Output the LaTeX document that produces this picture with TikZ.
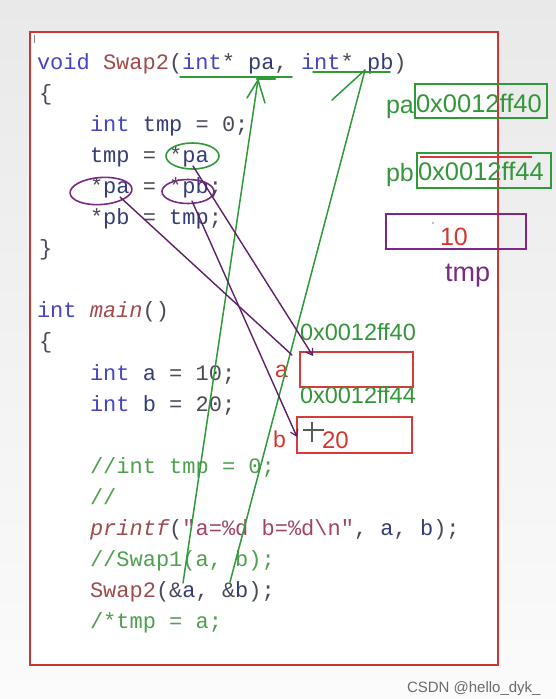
\documentclass[tikz,border=0pt]{standalone}
\usepackage{fontspec}
\setmainfont{Liberation Sans}
\setmonofont{Liberation Mono}
\usetikzlibrary{arrows.meta,shapes.geometric}
\definecolor{bgtop}{HTML}{E9E9E9}
\definecolor{bgbot}{HTML}{FBFBFB}
\definecolor{framered}{HTML}{CC3535}
\definecolor{boxred}{HTML}{D63A3A}
\definecolor{txtred}{HTML}{D3372F}
\definecolor{anngreen}{HTML}{2E9A38}
\definecolor{lblgreen}{HTML}{34963A}
\definecolor{annpurple}{HTML}{7A2A84}
\definecolor{linepurple}{HTML}{5E2068}
\definecolor{ckwcol}{HTML}{4545C4}
\definecolor{cidcol}{HTML}{363C76}
\definecolor{cdefcol}{HTML}{4A4A58}
\definecolor{cfncol}{HTML}{A04C4C}
\definecolor{ccmcol}{HTML}{4FA04F}
\definecolor{cstcol}{HTML}{A04466}
\newcommand{\ckw}[1]{\textcolor{ckwcol}{#1}}
\newcommand{\cid}[1]{\textcolor{cidcol}{#1}}
\newcommand{\cfn}[1]{\textcolor{cfncol}{#1}}
\newcommand{\ccm}[1]{\textcolor{ccmcol}{#1}}
\newcommand{\cst}[1]{\textcolor{cstcol}{#1}}
\begin{document}
\begin{tikzpicture}[x=1pt,y=-1pt,
  every node/.style={inner sep=0pt,outer sep=0pt},
  code/.style={anchor=base west,font=\ttfamily\fontsize{22}{22}\selectfont,text=cdefcol},
  lbl/.style={anchor=base west,font=\fontsize{#1}{#1}\selectfont},
  lbl/.default=25,
  gline/.style={draw=anngreen,line width=1.5pt,line cap=round},
  pline/.style={draw=linepurple,line width=1.4pt,line cap=round},
  parrow/.style={pline,-{Straight Barb[length=6pt,width=8pt,line width=1.2pt]}},
  ell/.style={ellipse,draw,line width=1.6pt,fill=none},
  gbox/.style={draw=anngreen,line width=1.6pt},
  rbox/.style={draw=boxred,line width=2pt},
  pbox/.style={draw=annpurple,line width=1.8pt}]
\useasboundingbox (0,0) rectangle (556,699);
\shade[top color=bgtop,bottom color=bgbot] (0,0) rectangle (556,699);
\fill[white] (30,32) rectangle (498,665);
\draw[draw=framered,line width=2.6pt] (30,32) rectangle (498,665);
\draw[gray,line width=0.8pt] (34,35) -- (34,43);

% ---- code ----
\node[code] (c1) at (37,69) {\ckw{void} \cfn{Swap2}(\ckw{int}* \cid{pa}, \ckw{int}* \cid{pb})};
\node[code] (c2) at (39,100) {\{};
\node[code] (c3) at (90,131) {\ckw{int} \cid{tmp} = 0;};
\node[code] (c4) at (90,162) {\cid{tmp} = *\cid{pa}};
\node[code] (c5) at (90,193) {*\cid{pa} = *\cid{pb};};
\node[code] (c6) at (90,224) {*\cid{pb} = \cid{tmp};};
\node[code] (c7) at (39,255) {\}};
\node[code] (c8) at (37,317) {\ckw{int} \cfn{\itshape main}()};
\node[code] (c9) at (39,348) {\{};
\node[code] (c10) at (90,380) {\ckw{int} \cid{a} = 10;};
\node[code] (c11) at (90,411) {\ckw{int} \cid{b} = 20;};
\node[code] (c12) at (90,473) {\ccm{//int tmp = 0;}};
\node[code] (c13) at (90,504) {\ccm{//}};
\node[code] (c14) at (90,535) {\cfn{\itshape printf}(\cst{"a=\%d b=\%d\textbackslash n"}, \cid{a}, \cid{b});};
\node[code] (c15) at (90,566) {\ccm{//Swap1(a, b);}};
\node[code] (c16) at (90,597) {\cfn{Swap2}(\&\cid{a}, \&\cid{b});};
\node[code] (c17) at (90,628) {\ccm{/*tmp = a;}};

% ---- right side memory ----
\node[lbl,text=lblgreen] (palbl) at (386,113) {pa};
\node[gbox,minimum width=132,minimum height=34] (pabox) at (481,101) {};
\node[lbl=25.5,text=lblgreen] (paval) at (416,112) {0x0012ff40};
\node[lbl,text=lblgreen] (pblbl) at (386,181) {pb};
\node[gbox,minimum width=134,minimum height=35] (pbbox) at (484,170.5) {};
\draw[boxred,line width=1.6pt] (420,157) -- (532,157);
\node[lbl=25.5,text=lblgreen] (pbval) at (418,180) {0x0012ff44};
\node[pbox,minimum width=140,minimum height=35] (tmpbox) at (456,231.5) {};
\node[lbl,text=txtred] (tmpval) at (440,245) {10};
\fill[gray] (433,223) circle (0.9);
\node[lbl=27,text=annpurple] (tmplbl) at (445,281) {tmp};

% ---- main memory ----
\node[lbl=23.5,text=lblgreen] (aaddr) at (300,340) {0x0012ff40};
\node[rbox,minimum width=113,minimum height=35] (abox) at (356.5,369.5) {};
\node[lbl=23,text=txtred] (alab) at (275,377) {a};
\node[lbl=23.5,text=lblgreen] (baddr) at (300,403) {0x0012ff44};
\node[rbox,minimum width=115,minimum height=36] (bbox) at (354.5,435) {};
\node[lbl=23,text=txtred] (blab) at (273,447) {b};
\node[lbl=24,text=txtred] (bval) at (322,448) {20};
\draw[gray!70!black,line width=1.2pt] (312,422) -- (312,442) (303,430) -- (324,430);

% ---- green annotations ----
\draw[gline] (180,77) -- (292,77);
\draw[gline,line width=2.5pt] (257,79) -- (275,79);
\draw[gline] (313,72) -- (390,72);
\node[ell,draw=anngreen,minimum width=53,minimum height=26] (e0) at (192.5,156) {};
\coordinate (ampa) at (183,583);
\coordinate (ampb) at (230,582);
\coordinate (tipa) at (258,80);
\coordinate (tipb) at (365,70);
\draw[gline] (ampa) -- (tipa);
\draw[gline] (tipa) -- ++(-11,18);
\draw[gline] (tipa) -- ++(7,23);
\draw[gline] (ampb) -- (tipb);
\draw[gline] (tipb) -- ++(-33,30);

% ---- purple annotations ----
\node[ell,draw=annpurple,minimum width=62,minimum height=27,rotate=4] (e1) at (101,191) {};
\node[ell,draw=annpurple,minimum width=52,minimum height=24] (e2) at (188,191.5) {};
\coordinate (s1) at (120,197);
\coordinate (t1) at (292,355);
\coordinate (s2) at (192,201);
\coordinate (t2) at (297,437);
\coordinate (s3) at (193,166);
\coordinate (t3) at (313,356);
\draw[pline] (s1) -- (t1);
\draw[parrow] (s2) -- (t2);
\draw[parrow] (s3) -- (t3);

% ---- watermark ----
\node[lbl=15,text=gray!85!black] (wm) at (407,692) {CSDN @hello\_dyk\_};
\end{tikzpicture}
\end{document}
